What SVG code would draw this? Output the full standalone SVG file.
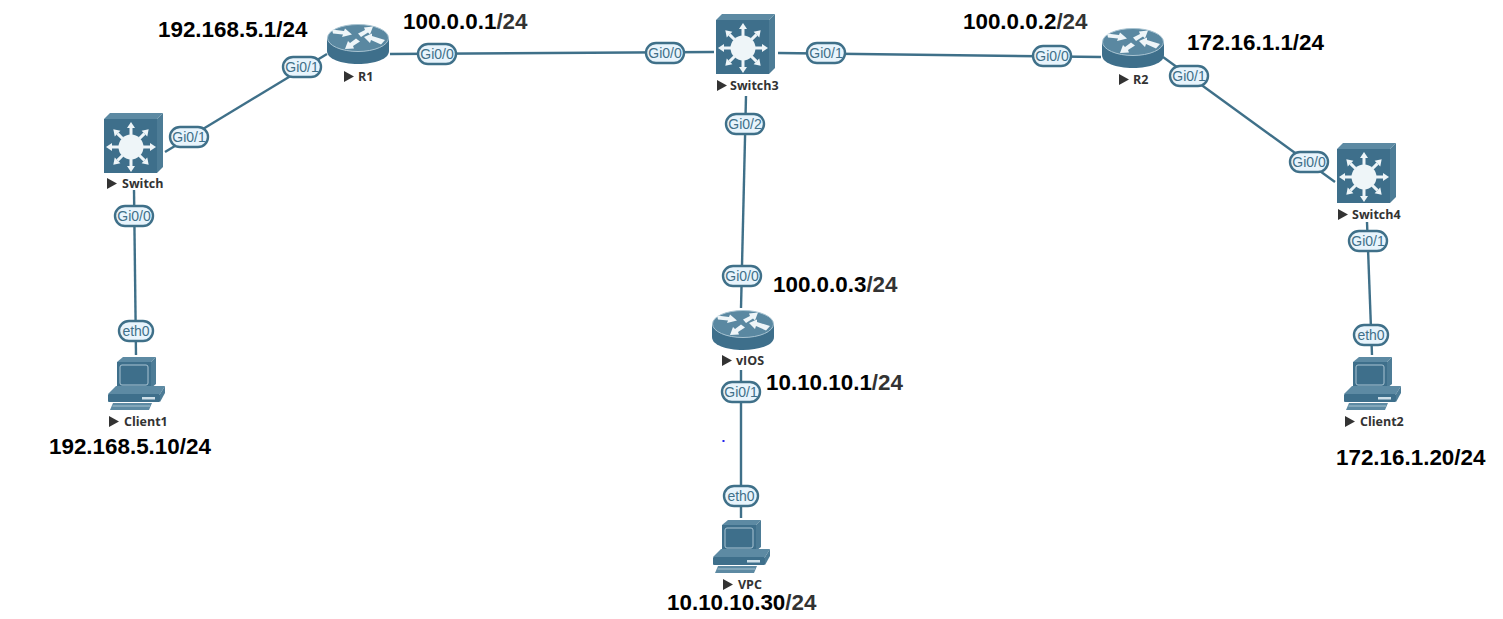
<svg xmlns="http://www.w3.org/2000/svg" width="1503" height="619" viewBox="0 0 1503 619">
<style>
.link{stroke:#3f7089;stroke-width:2.4;fill:none}
.pill rect{fill:#e8f4fc;stroke:#3f7089;stroke-width:2.4}
.pill text{font:14px "Liberation Sans",Arial,sans-serif;fill:#3f7089;text-anchor:middle}
.name{font:bold 12.500px "Open Sans",sans-serif;fill:#333}
.tri{fill:#333}
.ip{font:bold 22.400px "Liberation Sans",Arial,sans-serif;fill:#000}
.ip tspan{fill:#333}
.ic{fill:#3e6f8b}
.ic2{fill:#5d8aa3}
.wl{stroke:#eef5f8;fill:none}
.wf{fill:#eef5f8}
</style>
<defs>
<g id="arm">
<path d="M0 -12V-19" class="wl" stroke-width="3"/>
<path d="M-4 -19L0 -25L4 -19Z" class="wf"/>
</g>
<g id="sw">
<path class="ic2" d="M0 6L6 0H59L53 6Z"/>
<path d="M53 6L59 0V54L53 60Z" fill="#4d7c96"/>
<rect class="ic" y="6" width="53" height="54"/>
<g transform="translate(27 34)">
<circle r="12.500" class="wf"/>
<use href="#arm"/>
<use href="#arm" transform="rotate(45)"/>
<use href="#arm" transform="rotate(90)"/>
<use href="#arm" transform="rotate(135)"/>
<use href="#arm" transform="rotate(180)"/>
<use href="#arm" transform="rotate(225)"/>
<use href="#arm" transform="rotate(270)"/>
<use href="#arm" transform="rotate(315)"/>
</g>
</g>
<g id="rt">
<path class="ic" d="M0 14V27C0 35 14 40 31 40S62 35 62 27V14Z"/>
<ellipse cx="31" cy="14" rx="30.500" ry="13.500" fill="#5a88a1" stroke="#a9c4d2" stroke-width="1"/>
<g class="wf">
<path d="M5 5.500L17 7L18 4.500L25 10.500L15 13L16 10.500L6 9.500Z"/>
<path d="M46 2.500L37 3.500L38 6L31 9.500L34 13L41 8.500L43 10.500Z"/>
<path d="M37 13L45 9.500L45 12L58 16L54 20.500L44 16L43 19Z"/>
<path d="M18 25L27 24.500L26 22L33 17.500L29 14.500L23 19L21 17Z"/>
</g>
</g>
<g id="pc">
<path class="ic2" d="M9 5L15 0H48L43 5Z"/>
<path d="M43 5L48 0V27L43 31Z" fill="#4d7c96"/>
<rect class="ic" x="9" y="5" width="34" height="26"/>
<rect x="12" y="8" width="28" height="20" rx="2" class="ic" stroke="#a9c4d2" stroke-width="1"/>
<path class="ic2" d="M0 37L8 29H57L52 37Z"/>
<path d="M52 37L57 29V36L52 45Z" fill="#4d7c96"/>
<rect class="ic" y="37" width="52" height="8" rx="1"/>
<rect x="34" y="40" width="13" height="2.500" fill="#cfe0e9"/>
<path class="ic2" d="M5 46H44L41 53H2Z"/>
<path d="M4.500 49H42" stroke="#a9c4d2" stroke-width="1"/>
</g>
<path id="play" class="tri" d="M0 0L10 5.500L0 11Z"/>
</defs>

<g id="connectors">
<path class="link" d="M165 152L327 54"/>
<path class="link" d="M390 54L714 52"/>
<path class="link" d="M778 53L1101 57"/>
<path class="link" d="M746 96L741 308"/>
<path class="link" d="M741 370V518"/>
<path class="link" d="M1163 57L1335 182"/>
<path class="link" d="M134 190L136 355"/>
<path class="link" d="M1367 222L1372 355"/>
</g>

<g id="node-switch"><use href="#sw" x="104" y="113"/><use href="#play" x="107" y="178"/><text class="name" x="122" y="188">Switch</text></g>
<g id="node-r1"><use href="#rt" x="327" y="24"/><use href="#play" x="344" y="71"/><text class="name" x="358" y="81">R1</text></g>
<g id="node-switch3"><use href="#sw" x="716" y="14"/><use href="#play" x="717" y="80"/><text class="name" x="730" y="90">Switch3</text></g>
<g id="node-r2"><use href="#rt" x="1102" y="28"/><use href="#play" x="1119" y="74"/><text class="name" x="1133" y="84">R2</text></g>
<g id="node-switch4"><use href="#sw" x="1337" y="143"/><use href="#play" x="1338" y="209"/><text class="name" x="1352" y="219">Switch4</text></g>
<g id="node-vios"><use href="#rt" x="712" y="310"/><use href="#play" x="722" y="355"/><text class="name" x="736" y="365">vIOS</text></g>
<g id="node-client1"><use href="#pc" x="108" y="357"/><use href="#play" x="109" y="416"/><text class="name" x="124" y="426">Client1</text></g>
<g id="node-vpc"><use href="#pc" x="713" y="520"/><use href="#play" x="723" y="579"/><text class="name" x="738" y="589">VPC</text></g>
<g id="node-client2"><use href="#pc" x="1344" y="357"/><use href="#play" x="1345" y="416"/><text class="name" x="1360" y="426">Client2</text></g>

<g id="port-labels">
<g class="pill"><rect x="283" y="57" width="38" height="20" rx="10"/><text x="302" y="72">Gi0/1</text></g>
<g class="pill"><rect x="170" y="127" width="38" height="20" rx="10"/><text x="189" y="142">Gi0/1</text></g>
<g class="pill"><rect x="115" y="206" width="38" height="20" rx="10"/><text x="134" y="221">Gi0/0</text></g>
<g class="pill"><rect x="119" y="321" width="34" height="20" rx="10"/><text x="136" y="336">eth0</text></g>
<g class="pill"><rect x="418" y="44" width="38" height="20" rx="10"/><text x="437" y="59">Gi0/0</text></g>
<g class="pill"><rect x="646" y="43" width="38" height="20" rx="10"/><text x="665" y="58">Gi0/0</text></g>
<g class="pill"><rect x="807" y="43" width="38" height="20" rx="10"/><text x="826" y="58">Gi0/1</text></g>
<g class="pill"><rect x="726" y="114" width="38" height="20" rx="10"/><text x="745" y="129">Gi0/2</text></g>
<g class="pill"><rect x="723" y="266" width="38" height="20" rx="10"/><text x="742" y="281">Gi0/0</text></g>
<g class="pill"><rect x="722" y="382" width="38" height="20" rx="10"/><text x="741" y="397">Gi0/1</text></g>
<g class="pill"><rect x="724" y="486" width="34" height="20" rx="10"/><text x="741" y="501">eth0</text></g>
<g class="pill"><rect x="1033" y="46" width="38" height="20" rx="10"/><text x="1052" y="61">Gi0/0</text></g>
<g class="pill"><rect x="1170" y="66" width="38" height="20" rx="10"/><text x="1189" y="81">Gi0/1</text></g>
<g class="pill"><rect x="1290" y="152" width="38" height="20" rx="10"/><text x="1309" y="167">Gi0/0</text></g>
<g class="pill"><rect x="1349" y="231" width="38" height="20" rx="10"/><text x="1368" y="246">Gi0/1</text></g>
<g class="pill"><rect x="1354" y="325" width="34" height="20" rx="10"/><text x="1371" y="340">eth0</text></g>
</g>

<g id="addresses">
<text class="ip" x="158" y="37">192.168.5.1/24</text>
<text class="ip" x="403" y="29">100.0.0.1<tspan>/24</tspan></text>
<text class="ip" x="963" y="29">100.0.0.2<tspan>/24</tspan></text>
<text class="ip" x="1187" y="50">172.16.1.1/24</text>
<text class="ip" x="773" y="292">100.0.0.3<tspan>/24</tspan></text>
<text class="ip" x="766" y="390">10.10.10.1<tspan>/24</tspan></text>
<text class="ip" x="667" y="610">10.10.10.30<tspan>/24</tspan></text>
<text class="ip" x="49" y="454">192.168.5.10/24</text>
<text class="ip" x="1336" y="465">172.16.1.20/24</text>
</g>
<rect x="722.500" y="440" width="2" height="2" fill="#2222ee"/>
</svg>
